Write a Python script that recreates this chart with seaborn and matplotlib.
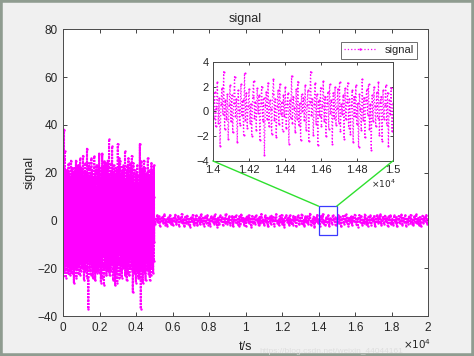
"""
signal plot with zoomed inset (MATLAB style) recreated with seaborn
"""
import matplotlib
matplotlib.use("Agg")
import matplotlib.pyplot as plt
from matplotlib.patches import Rectangle, ConnectionPatch
import numpy as np
import pandas as pd
import seaborn as sns

# ---------- data ----------
# strong burst, t = 0 .. 5000
burst = [
    12, -18, 7, 22, -9, 38, -21, 4, 18, -13, 29, -6, 10, -24, 16, -2, 21, -15, 8, -19,
    -5, 17, 21, -14, -22, 9, 15, -19, 3, 24, -11, -17, 20, 6, -23, 13, 18, -8, -21, 11,
    14, -7, 25, -11, 3, -22, 19, -5, 13, -17, 22, -10, 6, -20, 17, -14, 9, -26, 20, -3,
    19, -3, -16, 22, 8, -20, -12, 16, 25, -7, -24, 10, 14, -18, 2, 21, -15, -9, 23, -22,
    11, -16, 23, -8, 15, -19, 5, -23, 18, -12, 26, -4, 9, -21, 14, -9, 22, -18, 7, -15,
    7, 18, -20, -6, 15, 27, -13, -19, 12, 4, -25, 17, 20, -10, -16, 24, 1, -21, 13, -8,
    16, -11, 20, -6, 12, -24, 30, -13, 8, -17, 19, -2, 13, -37, 17, -10, 24, -7, 4, -20,
    22, -17, -4, 19, 10, -23, 16, -14, -2, 26, -18, 8, 21, -11, -20, 14, 5, -24, 18, -7,
    18, -14, 11, -21, 27, -5, 15, -18, 9, -25, 21, -12, 6, -16, 23, -8, 14, -22, 10, -3,
    -13, 23, 11, -21, 17, -5, -19, 20, 9, -15, 28, -12, -22, 15, 6, -18, 22, -9, 3, -26,
    19, -17, 8, -24, 13, -6, 28, -11, 16, -20, 5, -15, 22, -9, 12, -27, 18, -4, 25, -13,
    16, 12, -20, -8, 24, -16, 7, 19, -23, -4, 21, 13, -17, 10, -11, 25, -21, 2, 18, -14,
    7, -19, 34, -10, 14, -23, 20, -7, 11, -16, 17, -21, 9, -5, 24, -18, 15, -12, 31, -8,
    -9, 20, 14, -25, 8, -18, 23, -6, -15, 17, 11, -22, 19, -3, -27, 15, 22, -10, 6, -19,
    13, -22, 6, -14, 21, -26, 16, -9, 32, -17, 10, -4, 19, -20, 8, -13, 26, -24, 12, -6,
    25, -13, -7, 18, -21, 12, 9, -16, 20, -24, 4, 16, -12, 23, -8, -20, 13, 19, -17, 7,
    22, -15, 14, -19, 7, -11, 29, -23, 17, -8, 11, -18, 20, -3, 15, -25, 9, -14, 23, -10,
    -22, 15, 10, -14, 26, -9, -18, 21, 3, -23, 17, -6, 12, -20, 24, -15, -3, 18, -11, 22,
    16, -21, 27, -7, 12, -17, 6, -30, 18, -12, 24, -5, 13, -22, 10, -16, 21, -9, 15, -19,
    11, -19, 16, -26, 7, 20, -13, 14, -8, -21, 23, 5, -17, 19, -10, -24, 15, 9, -20, 13,
    8, -24, 19, -13, 32, -6, 14, -20, 11, -37, 17, -10, 25, -15, 9, -18, 22, -4, 16, -26,
    -16, 21, 6, -12, 18, -22, 25, -7, -14, 10, 22, -19, 4, 17, -25, 12, -9, 20, -15, 8,
    12, -8, 20, -17, 7, -21, 26, -11, 15, -14, 18, -23, 10, -7, 21, -16, 13, -25, 19, -12,
    14, -23, 19, -4, -18, 24, -11, 11, 7, -20, 16, -13, 21, -6, -22, 18, 10, -17, 23, -9,
]

# weak part, t = 5000 .. 20000
quiet = [
    1.2, -1.5, 0.4, 2.1, -0.8, 1.7, -2.2, 0.9, -0.3, 1.9, -1.1, 2.6, -1.8, 0.6, -2.5, 1.4, -0.5, 2.2, -1.3, 0.8,
    -1.9, 1.1, -0.2, 2.4, -1.6, 0.3, 1.8, -2.1, 1.0, -0.7, 2.7, -1.2, 0.5, -2.4, 1.6, -0.9, 2.0, -1.4, 0.7, -2.8,
    1.5, -0.4, 2.3, -1.7, 0.9, -1.0, 2.5, -2.0, 0.2, 1.3, -1.5, 2.8, -0.6, 1.1, -2.3, 1.7, -1.1, 0.4, 2.1, -1.8,
    0.8, -2.2, 1.9, -0.3, 1.4, -1.6, 2.6, -0.9, 0.5, -2.6, 1.2, -1.3, 2.2, -0.1, 1.6, -2.0, 0.7, -1.2, 2.9, -1.5,
    1.0, -0.8, 2.0, -1.9, 0.3, 1.8, -2.4, 1.4, -0.6, 2.3, -1.0, 0.6, -2.1, 1.7, -1.4, 2.5, -0.2, 1.1, -1.7, 0.9,
    -2.3, 1.6, -0.5, 2.1, -1.2, 0.8, -2.7, 1.9, -0.9, 1.3, -1.6, 2.4, -0.4, 1.0, -2.0, 1.5, -1.1, 2.7, -0.7, 0.4,
    -1.8, 2.2, -0.6, 1.2, -2.5, 0.9, 1.6, -1.3, 2.0, -0.2, 1.4, -2.2, 0.7, 2.6, -1.0, 0.3, -1.9, 1.8, -0.8, 2.3,
    -1.4, 0.5, -2.6, 1.3, 2.1, -0.5, 1.0, -1.7, 2.4, -1.2, 0.6, -2.0, 1.9, -0.3, 1.5, -2.4, 0.8, 2.2, -1.6, 1.1,
    -0.9, 2.5, -1.5, 0.2, -2.2, 1.7, -0.7, 2.0, -1.3, 0.9, 2.8, -1.8, 0.4, -1.1, 1.6, -2.7, 1.2, -0.4, 2.3, -1.0,
    0.7, -2.1, 1.8, -0.6, 2.6, -1.4, 0.3, -1.9, 1.4, -0.8, 2.1, -2.3, 1.0, 0.5, -1.6, 2.4, -0.2, 1.3, -2.0, 0.8,
    -1.2, 2.2, -0.9, 1.6, -2.5, 0.6, 1.9, -1.5, 0.2, 2.7, -1.1, 1.2, -2.2, 0.9, -0.5, 2.0, -1.8, 1.5, -0.3, 2.4,
    -1.3, 0.7, -2.6, 1.1, 2.3, -0.7, 1.7, -1.9, 0.4, -1.0, 2.5, -1.4, 0.8, -2.1, 1.6, -0.6, 2.2, -1.7, 1.0, -0.2,
    1.8, -2.4, 0.5, 2.1, -1.2, 1.4, -0.8, 2.6, -2.0, 0.3, 1.5, -1.6, 2.0, -0.4, 0.9, -2.3, 1.7, -1.0, 2.4, -1.5,
    0.6, -1.9, 2.2, -0.7, 1.3, -2.5, 0.8, 1.9, -1.1, 0.2, 2.5, -1.7, 1.1, -0.5, 2.1, -2.2, 0.7, -1.3, 1.6, -0.9,
    2.3, -1.4, 0.4, -2.0, 1.8, -0.6, 2.7, -1.2, 0.9, -1.8, 1.4, -2.4, 0.5, 2.0, -1.0, 1.2, -0.3, 2.2, -1.6, 0.8,
]

# zoomed window, t = 14000 .. 15000
zoom_vals = [
    0.8, -0.5, 1.6, -1.2, 0.3, 2.4, -0.9, 1.1, -2.8, 0.6, 1.9, -0.2, 3.2, -1.4, 0.9, -0.6, 1.4, -2.2, 0.5, 2.1,
    -0.8, 1.3, -1.7, 0.7, 2.8, -0.4, 1.0, -2.5, 1.7, 0.1, -1.1, 2.2, -0.3, 0.9, -1.9, 3.1, -0.7, 1.5, -1.3, 0.4,
    1.8, -0.9, 0.6, -2.0, 1.2, 2.5, -0.5, 0.8, -1.5, 1.9, -0.1, 1.3, -2.3, 0.7, 2.0, -0.8, 1.1, -3.5, 0.5, 1.6,
    -0.6, 2.3, -1.2, 0.9, 0.2, -1.8, 1.4, 2.6, -0.7, 1.0, -2.1, 0.4, 1.7, -1.0, 2.2, -0.2, 0.8, -1.6, 1.3, -0.4,
    2.0, -1.3, 0.6, 1.5, -2.6, 0.9, -0.5, 2.9, -0.9, 1.2, 0.3, -1.7, 1.8, -0.6, 2.4, -1.1, 0.7, -2.3, 1.4, 0.0,
    1.1, -0.7, 2.1, -1.5, 0.5, 1.7, -2.4, 0.8, 3.2, -0.3, 1.0, -1.9, 0.6, 2.3, -1.0, 1.4, -2.7, 0.9, -0.4, 1.9,
    -1.2, 0.4, 2.5, -0.8, 1.2, -2.0, 0.7, 1.6, -1.4, 2.2, -0.1, 0.9, -2.6, 1.5, -0.5, 2.0, -1.1, 0.3, 1.8, -0.9,
    2.4, -1.6, 0.6, -0.2, 1.3, -2.2, 1.9, -0.6, 0.8, 2.3, -1.3, 1.0, -1.8, 0.5, 1.7, -2.5, 1.2, -0.4, 2.1, -1.0,
    0.7, -2.9, 1.4, 0.2, -1.5, 2.6, -0.7, 1.1, -2.1, 0.9, 1.8, -0.3, 2.2, -1.4, 0.6, -3.1, 1.3, -0.8, 2.0, 0.4,
    -1.2, 1.6, -0.5, 2.4, -1.9, 0.8, 1.2, -2.4, 1.7, -0.6, 0.5, 2.1, -1.1, 1.5, -2.8, 0.9, -0.2, 1.9, -1.6, 0.7,
]

x_ticks = [0, 2000, 4000, 6000, 8000, 10000, 12000, 14000, 16000, 18000, 20000]
x_tick_labels = ["0", "0.2", "0.4", "0.6", "0.8", "1", "1.2", "1.4", "1.6", "1.8", "2"]
y_ticks = [-40, -20, 0, 20, 40, 60, 80]
zoom_x_ticks = [14000, 14200, 14400, 14600, 14800, 15000]
zoom_x_labels = ["1.4", "1.42", "1.44", "1.46", "1.48", "1.5"]
zoom_y_ticks = [-4, -2, 0, 2, 4]

# ---------- tables ----------
t_burst = np.linspace(0, 5000, len(burst), endpoint=False)
t_quiet = np.linspace(5000, 20000, len(quiet))
df = pd.DataFrame({"t": np.concatenate([t_burst, t_quiet]),
                   "signal": burst + quiet})
dz = pd.DataFrame({"t": np.linspace(14000, 15000, len(zoom_vals)),
                   "signal": zoom_vals})

# ---------- style ----------
sns.set_style("ticks")
plt.rcParams["font.family"] = ["Liberation Sans", "DejaVu Sans"]
EDGE = "#4a4a4a"
MAG = "#ff00ff"

fig = plt.figure(figsize=(4.74, 3.56), dpi=100, facecolor="#f0f0f0")
fig.patches.append(Rectangle((0, 0), 1, 1, transform=fig.transFigure,
                             fill=False, edgecolor="#8f9c90", linewidth=4))

# ---------- main axes ----------
ax = fig.add_axes([0.133, 0.112, 0.770, 0.806])
ax.set_facecolor("white")
sns.lineplot(data=df, x="t", y="signal", ax=ax, label="signal", color=MAG,
             linestyle=(0, (1, 0.6)), marker=".", markersize=3.5,
             markeredgewidth=0, linewidth=1.5, sort=False, estimator=None)
ax.set_xlim(0, 20000)
ax.set_ylim(-40, 80)
ax.set_xticks(x_ticks)
ax.set_xticklabels(x_tick_labels)
ax.set_yticks(y_ticks)
ax.tick_params(direction="in", top=True, right=True, length=3, width=0.6,
               labelsize=8.5, colors="#262626", pad=4)
for s in ax.spines.values():
    s.set_color(EDGE)
    s.set_linewidth(0.7)
ax.set_title("signal", fontsize=9, pad=5)
ax.set_xlabel("t/s", fontsize=9, labelpad=5)
ax.set_ylabel("signal", fontsize=9, labelpad=1)
fig.text(0.851, 0.02, r"$\times10^4$", fontsize=7.5, color="#262626")

leg = ax.legend(loc="upper right", fontsize=8, frameon=True, fancybox=False,
                handlelength=2.8, borderpad=0.3, bbox_to_anchor=(0.985, 0.975))
leg.get_frame().set_edgecolor(EDGE)
leg.get_frame().set_linewidth(0.7)
leg.get_lines()[0].set_linewidth(0.9)
leg.get_lines()[0].set_linestyle(":")

ax.add_patch(Rectangle((14000, -6), 1000, 12, fill=False,
                       edgecolor="#3a3aff", linewidth=0.9, zorder=5))

# ---------- inset ----------
axi = fig.add_axes([0.449, 0.548, 0.380, 0.278])
axi.set_facecolor("white")
sns.lineplot(data=dz, x="t", y="signal", ax=axi, legend=False, color=MAG,
             linestyle=":", marker=".", markersize=3, markeredgewidth=0,
             linewidth=0.9, sort=False, estimator=None)
axi.set_xlim(14000, 15000)
axi.set_ylim(-4, 4)
axi.set_xticks(zoom_x_ticks)
axi.set_xticklabels(zoom_x_labels)
axi.set_yticks(zoom_y_ticks)
axi.set_xlabel("")
axi.set_ylabel("")
axi.tick_params(direction="in", top=True, right=True, length=2.5, width=0.6,
                labelsize=8, colors="#262626", pad=3)
for s in axi.spines.values():
    s.set_color(EDGE)
    s.set_linewidth(0.7)
fig.text(0.782, 0.472, r"$\times10^4$", fontsize=6.5, color="#262626")

for xa in [14000, 15000]:
    con = ConnectionPatch(xyA=(xa, -4), coordsA=axi.transData,
                          xyB=(xa, 6), coordsB=ax.transData,
                          color="#2ee02e", linewidth=1.0)
    fig.add_artist(con)

fig.text(0.548, 0.008, "https://blog.csdn.net/weixin_44044161", fontsize=6,
         color="#dcdcdc", alpha=0.9)

fig.savefig("out.png", dpi=100, facecolor=fig.get_facecolor())
